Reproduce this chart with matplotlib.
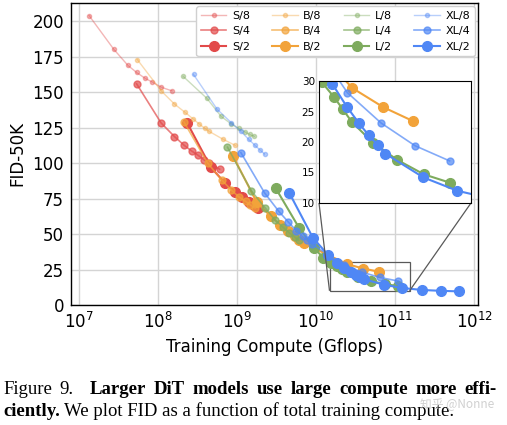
import matplotlib
matplotlib.use("Agg")
import matplotlib.pyplot as plt
from mpl_toolkits.axes_grid1.inset_locator import mark_inset

# training compute (Gflops) and FID-50K
s8_x = [1.35e7, 2.75e7, 4.17e7, 5.37e7, 6.92e7, 8.51e7, 1.10e8, 1.51e8]
s8_y = [204, 180.5, 169, 164, 159.8, 157.2, 153.6, 151]
s4_x = [5.37e7, 1.10e8, 1.62e8, 2.14e8, 2.69e8, 3.24e8, 3.80e8, 4.37e8, 6.03e8]
s4_y = [156, 128.3, 118.8, 112.7, 108.5, 105.5, 102.5, 100.4, 95.8]
s2_x = [2.34e8, 4.68e8, 7.08e8, 9.33e8, 1.17e9, 1.41e9, 1.62e9, 1.86e9]
s2_y = [128.5, 97, 86, 80, 76, 72.5, 70.5, 68.4]

b8_x = [5.5e7, 1.10e8, 1.62e8, 2.19e8, 2.75e8, 3.31e8, 3.89e8, 4.37e8, 6.61e8, 9.55e8]
b8_y = [173, 151, 141.7, 136, 131.5, 127.8, 124.7, 122.7, 117, 112.5]
b4_x = [2.14e8, 4.27e8, 6.46e8, 8.51e8, 1.07e9, 1.29e9, 1.48e9, 1.70e9]
b4_y = [129, 100, 88, 81, 76, 73, 70.5, 68.4]
b2_x = [8.91e8, 1.78e9, 2.69e9, 3.55e9, 4.47e9, 5.37e9, 6.17e9, 7.08e9, 2.47e10, 3.98e10, 6.31e10]
b2_y = [105, 72.5, 62.5, 56.5, 52, 48.5, 46, 43.5, 28.85, 25.7, 23.4]

l8_x = [2.09e8, 4.17e8, 6.31e8, 8.32e8, 1.05e9, 1.26e9, 1.45e9, 1.66e9]
l8_y = [161.2, 145.7, 133, 128, 124.5, 122, 120.3, 118.9]
l4_x = [7.59e8, 1.51e9, 2.29e9, 3.02e9, 3.80e9, 4.57e9, 5.37e9, 6.03e9]
l4_y = [111.3, 80.7, 68.3, 60, 55, 51, 48, 45.6]
l2_x = [3.09e9, 6.17e9, 9.33e9, 1.23e10, 1.55e10, 1.86e10, 2.14e10, 2.45e10,
        3.39e10, 4.90e10, 7.41e10, 1.10e11]
l2_y = [82.4, 54, 40.5, 33.5, 29.8, 27.4, 25.35, 23.3, 19.9, 17.1, 14.7, 13.35]

xl8_x = [2.82e8, 5.62e8, 8.51e8, 1.12e9, 1.41e9, 1.70e9, 1.95e9, 2.24e9]
xl8_y = [162.6, 138, 128.5, 122.5, 116.8, 112.5, 109.4, 106.4]
xl4_x = [1.12e9, 2.24e9, 3.39e9, 4.47e9, 5.62e9, 6.76e9, 7.76e9, 8.91e9,
         2.29e10, 3.85e10, 6.46e10, 1.10e11]
xl4_y = [107.5, 79, 66, 58.5, 52.5, 48.5, 45.5, 43, 28.1, 23.1, 19.4, 16.9]
xl2_x = [4.57e9, 9.12e9, 1.41e10, 1.82e10, 2.27e10, 2.74e10, 3.18e10, 3.65e10,
         4.10e10, 7.35e10, 1.24e11, 2.19e11, 3.80e11, 6.46e11]
xl2_y = [79.3, 47.5, 35.5, 29.5, 25.8, 23.05, 21.1, 19.5, 18.1, 14.2, 12.0, 10.6, 10.0, 9.6]

series = [
    ("S/8", s8_x, s8_y), ("S/4", s4_x, s4_y), ("S/2", s2_x, s2_y),
    ("B/8", b8_x, b8_y), ("B/4", b4_x, b4_y), ("B/2", b2_x, b2_y),
    ("L/8", l8_x, l8_y), ("L/4", l4_x, l4_y), ("L/2", l2_x, l2_y),
    ("XL/8", xl8_x, xl8_y), ("XL/4", xl4_x, xl4_y), ("XL/2", xl2_x, xl2_y),
]

colors = {"S": "#e24a4a", "B": "#f2a33a", "L": "#7eab5e", "XL": "#4f87f5"}
patch_style = {"8": (0.4, 3, 1.0), "4": (0.7, 5, 1.2), "2": (1.0, 7, 1.5)}

W, H = 507, 425
fig = plt.figure(figsize=(W / 100, H / 100), dpi=100)
ax = fig.add_axes([71 / W, 1 - 305 / H, 407 / W, 302 / H])
axins = fig.add_axes([319 / W, 1 - 203 / H, 152 / W, 122 / H])

for name, xs, ys in series:
    model, patch = name.split("/")
    alpha, ms, lw = patch_style[patch]
    for a in (ax, axins):
        a.plot(xs, ys, "-o", color=colors[model], alpha=alpha, ms=ms, lw=lw,
               label=name if a is ax else None)

ax.set_xscale("log")
ax.set_xlim(10 ** 6.9, 10 ** 12.05)
ax.set_ylim(0, 213)
ax.set_yticks(range(0, 201, 25))
ax.set_xticks([1e7, 1e8, 1e9, 1e10, 1e11, 1e12])
ax.minorticks_off()
ax.grid(True, color="#d4d4d4", lw=1)
ax.set_axisbelow(True)
ax.tick_params(length=0, labelsize=12, pad=5)
for sp in ax.spines.values():
    sp.set_color("black")
    sp.set_linewidth(1)
ax.set_xlabel("Training Compute (Gflops)", fontsize=12, labelpad=4)
ax.set_ylabel("FID-50K", fontsize=12, labelpad=4)

ax.legend(ncol=4, loc="upper right", fontsize=8, frameon=True, framealpha=1,
          edgecolor="#d0d0d0", handlelength=2.3, handletextpad=0.5,
          columnspacing=2.0, borderaxespad=0.3, labelspacing=0.5)

axins.set_xscale("log")
axins.set_xlim(10 ** 10.171, 10 ** 11.184)
axins.set_ylim(10, 30)
axins.set_yticks([10, 15, 20, 25, 30])
axins.set_xticks([])
axins.minorticks_off()
axins.tick_params(length=0, labelsize=7.5, pad=3)
axins.set_facecolor("white")
for sp in axins.spines.values():
    sp.set_color("black")
mark_inset(ax, axins, loc1=3, loc2=4, fc="none", ec="0.35", lw=0.9)

# caption below the chart, first line justified
serif = "Liberation Serif"
fs = 13.5
y1 = 1 - 394 / H
y2 = 1 - 416 / H
line1 = [("Figure", "normal"), ("9.", "normal"), ("Larger", "bold"), ("DiT", "bold"),
         ("models", "bold"), ("use", "bold"), ("large", "bold"), ("compute", "bold"),
         ("more", "bold"), ("effi-", "bold")]
words = [fig.text(0, y1, w, family=serif, fontsize=fs, weight=wt) for w, wt in line1]
fig.canvas.draw()
r = fig.canvas.get_renderer()
widths = [t.get_window_extent(r).width for t in words]
gaps = [1] * (len(words) - 1)
gaps[1] = 2  # wider gap after "Figure 9."
unit = (497 - 3 - sum(widths)) / sum(gaps)
x = 3
for i, t in enumerate(words):
    t.set_x(x / W)
    if i < len(gaps):
        x += widths[i] + gaps[i] * unit

t = fig.text(3 / W, y2, "ciently.", family=serif, fontsize=fs, weight="bold")
bb = t.get_window_extent(r)
fig.text((bb.x1 + 4) / W, y2, "We plot FID as a function of total training compute.",
         family=serif, fontsize=fs)
fig.text(494 / W, 1 - 408 / H, "知乎 @Nonne", fontsize=8.5, color="#c8c8c8",
         alpha=0.85, ha="right", family=["Noto Sans CJK SC", "DejaVu Sans"])

fig.savefig("out.png", dpi=100)
